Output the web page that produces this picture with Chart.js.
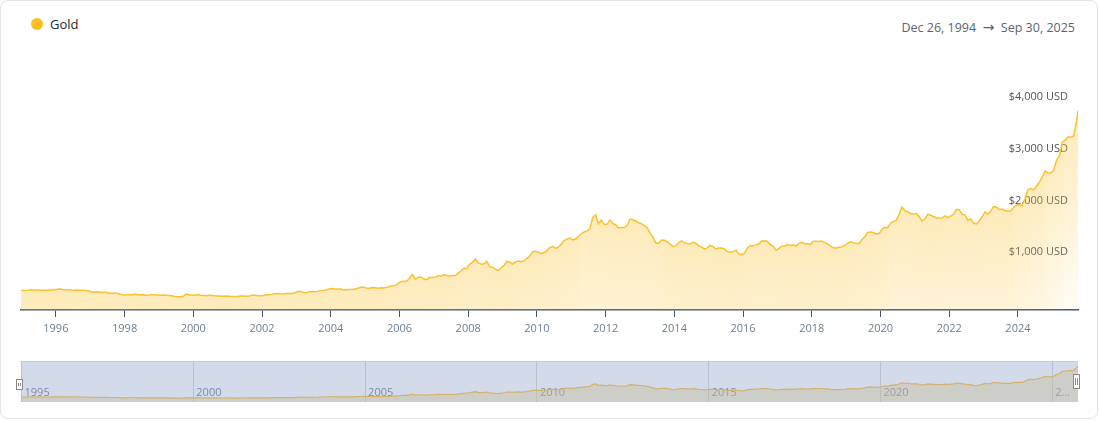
<!DOCTYPE html>
<html>
<head>
<meta charset="utf-8">
<script src="https://cdn.jsdelivr.net/npm/chart.js@4.4.1/dist/chart.umd.min.js"></script>
<style>
  html, body { margin: 0; padding: 0; background: #fff; }
  body { width: 1099px; height: 422px; position: relative; overflow: hidden; font-family: 'Open Sans', sans-serif; }
  .card { position: absolute; left: 0; top: 0; width: 1096px; height: 417px; border: 1px solid #e4e4e4; border-radius: 8px; }
  .legend { position: absolute; left: 31px; top: 15px; height: 18px; display: flex; align-items: center; font-size: 13px; color: #1f2633; }
  .legend .dot { width: 12px; height: 12px; border-radius: 50%; background: #fbbf24; margin-right: 7px; }
  .range { position: absolute; right: 24px; top: 19px; font-size: 12.5px; color: #5b6470; white-space: pre; }
  .range .arrow { font-family: 'DejaVu Sans', sans-serif; font-size: 14px; line-height: 1; }
  #main { position: absolute; left: 0; top: 20px; }
  .nav-bg { position: absolute; left: 21px; top: 361px; width: 1057px; height: 41px; background: #d3dbeb; border-top: 1px solid #c5cad6; box-sizing: border-box; }
  #nav { position: absolute; left: 0; top: 361px; }
  .grip { position: absolute; background: #fff; border: 1px solid #8a8a8a; box-sizing: border-box; }
  .grip::before, .grip::after { content: ''; position: absolute; top: 3px; bottom: 3px; width: 1px; background: #8a8a8a; }
  .grip::before { left: 1px; }
  .grip::after { left: 3px; }
</style>
</head>
<body>
<div class="card"></div>
<div class="legend"><span class="dot"></span>Gold</div>
<div class="range">Dec 26, 1994  <span class="arrow">→</span>  Sep 30, 2025</div>
<canvas id="main" width="1099" height="320"></canvas>
<div class="nav-bg"></div>
<canvas id="nav" width="1099" height="41"></canvas>
<div class="grip" style="left:16px; top:379px; width:7px; height:11px;"></div>
<div class="grip" style="left:1073px; top:374px; width:7px; height:15px;"></div>

<script>
// Gold price, USD per ounce, monthly readings Jan 1995 .. Sep 2025
const firstYear = 1995;
const startPoint = { x: 1994.985, y: 381 };   // Dec 26, 1994
const endPoint = { x: 2025.748, y: 3858 };    // Sep 30, 2025

const prices1990s = [
  379, 376, 382, 391, 385, 387, 386, 383, 383, 383, 386, 387,
  400, 405, 396, 393, 392, 385, 383, 387, 383, 381, 378, 369,
  355, 347, 352, 344, 344, 341, 324, 324, 323, 325, 306, 289,
  289, 297, 296, 308, 299, 292, 293, 284, 289, 296, 294, 291,
  287, 288, 286, 282, 277, 262, 256, 257, 265, 311, 293, 283
];
const prices2000s = [
  284, 300, 286, 280, 275, 285, 282, 275, 273, 270, 266, 272,
  266, 262, 263, 261, 272, 270, 268, 273, 283, 283, 276, 276,
  282, 295, 294, 302, 314, 321, 313, 310, 319, 317, 319, 333,
  357, 359, 340, 328, 355, 356, 351, 360, 379, 379, 389, 407,
  414, 405, 406, 404, 384, 392, 398, 400, 406, 420, 439, 442,
  424, 423, 434, 429, 422, 431, 424, 438, 456, 470, 476, 510,
  549, 555, 557, 610, 690, 596, 633, 632, 598, 586, 628, 629,
  631, 665, 655, 679, 667, 655, 665, 665, 712, 754, 806, 803,
  889, 922, 985, 909, 888, 889, 939, 839, 829, 790, 760, 816,
  858, 943, 924, 890, 928, 946, 934, 949, 996, 1043, 1127, 1135
];
const prices2010s = [
  1118, 1095, 1113, 1148, 1205, 1232, 1193, 1215, 1271, 1343, 1370, 1392,
  1356, 1372, 1424, 1474, 1510, 1529, 1573, 1790, 1840, 1666, 1739, 1652,
  1656, 1742, 1674, 1650, 1585, 1596, 1594, 1630, 1760, 1747, 1721, 1688,
  1671, 1627, 1593, 1487, 1414, 1300, 1286, 1352, 1349, 1316, 1275, 1225,
  1244, 1300, 1336, 1299, 1287, 1279, 1311, 1296, 1239, 1222, 1176, 1202,
  1251, 1227, 1179, 1198, 1199, 1181, 1129, 1117, 1125, 1157, 1086, 1068,
  1097, 1199, 1246, 1242, 1260, 1276, 1337, 1341, 1326, 1266, 1238, 1151,
  1192, 1234, 1231, 1267, 1246, 1260, 1236, 1283, 1315, 1280, 1283, 1265,
  1331, 1331, 1325, 1335, 1303, 1282, 1238, 1202, 1198, 1215, 1221, 1250,
  1291, 1320, 1301, 1286, 1284, 1359, 1413, 1500, 1510, 1495, 1471, 1480
];
const prices2020s = [
  1560, 1597, 1592, 1683, 1715, 1732, 1847, 1990, 1921, 1900, 1866, 1858,
  1867, 1808, 1718, 1760, 1850, 1834, 1807, 1785, 1775, 1777, 1821, 1790,
  1817, 1856, 1948, 1937, 1848, 1837, 1733, 1765, 1681, 1665, 1726, 1798,
  1898, 1855, 1913, 1999, 1992, 1943, 1951, 1918, 1916, 1916, 1985, 2030,
  2034, 2023, 2158, 2331, 2348, 2326, 2398, 2470, 2572, 2691, 2651, 2648,
  2709, 2895, 2984, 3250, 3282, 3351, 3340, 3365, 3667
];

const yearTicks = [1996, 1998, 2000, 2002, 2004, 2006, 2008, 2010, 2012, 2014, 2016, 2018, 2020, 2022, 2024];
const priceTicks = [1000, 2000, 3000, 4000];
const navTicks = [1995, 2000, 2005, 2010, 2015, 2020, 2025];
const navLabels = ['1995', '2000', '2005', '2010', '2015', '2020', '2...'];

const monthly = [...prices1990s, ...prices2000s, ...prices2010s, ...prices2020s];
const points = [startPoint]
  .concat(monthly.map((v, i) => ({ x: firstYear + (i + 0.5) / 12, y: v })))
  .concat([endPoint]);

Chart.defaults.font.family = "'Open Sans', sans-serif";

// Area fill: a pattern whose yellow fades downward from the local height of the line
let fillPattern = null;
function goldFill(ctx) {
  const chart = ctx.chart;
  const area = chart.chartArea;
  if (!area) return 'rgba(252, 193, 45, 0.2)';
  if (fillPattern) return fillPattern;
  const px = points.map(p => chart.scales.x.getPixelForValue(p.x));
  const py = points.map(p => chart.scales.y.getPixelForValue(p.y));
  const off = document.createElement('canvas');
  off.width = chart.width;
  off.height = chart.height;
  const c = off.getContext('2d');
  for (let x = Math.floor(area.left); x < area.right; x += 2) {
    let top = area.bottom;
    px.forEach((v, i) => { if (Math.abs(v - x) < 14) top = Math.min(top, py[i]); });
    const g = c.createLinearGradient(0, top, 0, top + 210);
    g.addColorStop(0, 'rgba(252, 193, 45, 0.33)');
    g.addColorStop(1, 'rgba(252, 193, 45, 0.03)');
    c.fillStyle = g;
    c.fillRect(x, top - 4, 2, area.bottom - top + 6);
  }
  fillPattern = chart.ctx.createPattern(off, 'no-repeat');
  return fillPattern;
}

new Chart(document.getElementById('main'), {
  type: 'line',
  data: {
    datasets: [{
      label: 'Gold',
      data: points,
      borderColor: '#fcc12e',
      borderWidth: 1.5,
      pointRadius: 0,
      tension: 0,
      fill: 'start',
      backgroundColor: goldFill
    }]
  },
  options: {
    responsive: false,
    animation: false,
    events: [],
    layout: { padding: { left: 21, right: 21, top: 20, bottom: 0 } },
    plugins: { legend: { display: false }, tooltip: { enabled: false } },
    scales: {
      x: {
        type: 'linear',
        min: startPoint.x,
        max: endPoint.x,
        afterBuildTicks: s => { s.ticks = yearTicks.map(v => ({ value: v })); },
        afterFit: s => { s.height = 30; },
        grid: { drawOnChartArea: false, drawTicks: true, tickLength: 7, color: '#44566b' },
        border: { display: true, color: '#44566b', width: 1.5 },
        ticks: { padding: 5, color: '#6e7e90', font: { size: 11 }, autoSkip: false, maxRotation: 0, callback: v => String(v) }
      },
      y: {
        position: 'right',
        min: 0,
        max: 5222,
        afterBuildTicks: s => { s.ticks = priceTicks.map(v => ({ value: v })); },
        afterFit: s => { s.width = 0; },
        grid: { display: false },
        border: { display: false },
        ticks: {
          mirror: true,
          padding: -10,
          labelOffset: -6,
          color: '#50565e',
          font: { size: 11 },
          callback: v => '$' + v.toLocaleString('en-US') + ' USD'
        }
      }
    }
  }
});

new Chart(document.getElementById('nav'), {
  type: 'line',
  data: {
    datasets: [{
      data: points,
      borderColor: '#d4b26c',
      borderWidth: 1.2,
      pointRadius: 0,
      tension: 0,
      fill: 'start',
      backgroundColor: 'rgba(200, 188, 150, 0.4)'
    }]
  },
  options: {
    responsive: false,
    animation: false,
    events: [],
    layout: { padding: { left: 21, right: 21, top: 0, bottom: 0 } },
    plugins: { legend: { display: false }, tooltip: { enabled: false } },
    scales: {
      x: {
        type: 'linear',
        z: 1,
        min: startPoint.x,
        max: endPoint.x,
        afterBuildTicks: s => { s.ticks = navTicks.map(v => ({ value: v })); },
        afterFit: s => { s.height = 0; },
        grid: { color: '#b8c1d4', drawTicks: false },
        border: { display: false },
        ticks: {
          mirror: true,
          align: 'start',
          labelOffset: 3,
          padding: 3,
          color: '#7f8ba6',
          font: { size: 11 },
          autoSkip: false,
          maxRotation: 0,
          callback: (v, i) => navLabels[i]
        }
      },
      y: { display: false, min: -180, max: 4420 }
    }
  }
});
</script>
</body>
</html>
